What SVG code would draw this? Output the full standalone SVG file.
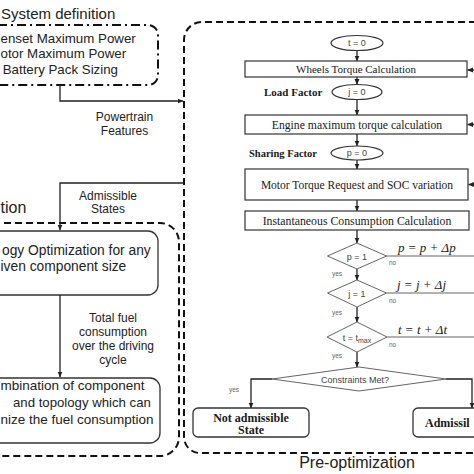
<svg xmlns="http://www.w3.org/2000/svg" width="474" height="474" viewBox="0 0 474 474">
<defs>
<marker id="ah" markerWidth="6" markerHeight="6" refX="5.5" refY="3" orient="auto" markerUnits="userSpaceOnUse"><path d="M0,0.5 L6,3 L0,5.5 z" fill="#222"/></marker>
<style>
.sans{font-family:"Liberation Sans",Arial,sans-serif;fill:#222}
.serif{font-family:"Liberation Serif","Times New Roman",serif;fill:#1a1a1a}
.bold{font-weight:bold}
.mid{text-anchor:middle}
.box{fill:#fff;stroke:#333;stroke-width:1.2}
.rbox{fill:#fff;stroke:#333;stroke-width:1.3}
.dia{fill:#fff;stroke:#666;stroke-width:1}
.ln{fill:none;stroke:#222;stroke-width:1.3}
.gl{fill:none;stroke:#666;stroke-width:1.2}
.dash{fill:none;stroke:#111;stroke-width:2;stroke-dasharray:7 4}
.dashdot{fill:none;stroke:#111;stroke-width:2;stroke-dasharray:9 4 2 4}
.small{font-family:"Liberation Sans",Arial,sans-serif;fill:#666;font-size:6.5px}
.dtxt{font-family:"Liberation Sans",Arial,sans-serif;fill:#444;font-size:9px;text-anchor:middle}
.formula{font-family:"Liberation Serif","Times New Roman",serif;font-style:italic;fill:#222;font-size:13px}
</style>
</defs>
<rect x="0" y="0" width="474" height="474" fill="#fff"/>

<!-- section outlines -->
<g id="system-definition">
<text class="sans" x="1" y="19" font-size="15">System definition</text>
<path class="dashdot" d="M-40,25 H148 A10,10 0 0 1 158,35 V75 A10,10 0 0 1 148,85 H-40"/>
<text class="sans" x="0.5" y="43" font-size="13.3">enset Maximum Power</text>
<text class="sans" x="0.5" y="58" font-size="13.3">otor Maximum Power</text>
<text class="sans" x="2.7" y="74" font-size="13.3">Battery Pack Sizing</text>
</g>

<g id="optimization">
<text class="sans" x="0.5" y="213" font-size="16">tion</text>
<path class="dash" d="M-40,223 H160 A19,19 0 0 1 179,242 V437 A19,19 0 0 1 160,456 H-40"/>
</g>

<g id="topology-box">
<rect class="rbox" x="-40" y="231" width="198" height="64" rx="10"/>
<text class="sans" x="2" y="255" font-size="13.8">ogy Optimization for any</text>
<text class="sans" x="0.5" y="271" font-size="13.8">iven component size</text>
</g>

<g id="combination-box">
<rect class="rbox" x="-40" y="378" width="200" height="65" rx="10"/>
<text class="sans" x="0.5" y="390" font-size="13.5">mbination of component</text>
<text class="sans" x="13" y="407" font-size="13.2">and topology which can</text>
<text class="sans" x="0.5" y="424" font-size="13.5">nize the fuel consumption</text>
</g>

<g id="pre-optimization">
<path class="dash" d="M520,22 H202 A18,18 0 0 0 184,40 V437 A16,16 0 0 0 200,453 H520"/>
<text class="sans mid" x="357" y="468" font-size="16">Pre-optimization</text>
</g>

<!-- connectors -->
<g id="connectors">
<path class="ln" d="M60,85 V101 H183" marker-end="url(#ah)"/>
<path class="ln" d="M184,183 H60 V230" marker-end="url(#ah)"/>
<path class="ln" d="M60,295 V377" marker-end="url(#ah)"/>
<text class="sans mid" x="124.5" y="121" font-size="12">Powertrain</text>
<text class="sans mid" x="124.5" y="135" font-size="12">Features</text>
<text class="sans mid" x="108" y="200" font-size="12">Admissible</text>
<text class="sans mid" x="108" y="213" font-size="12">States</text>
<text class="sans mid" x="113" y="322" font-size="12">Total fuel</text>
<text class="sans mid" x="113" y="336" font-size="12">consumption</text>
<text class="sans mid" x="113" y="350" font-size="12">over the driving</text>
<text class="sans mid" x="113" y="364" font-size="12">cycle</text>

<path class="ln" d="M357,50.5 V61" marker-end="url(#ah)"/>
<path class="ln" d="M357,77 V84.5" marker-end="url(#ah)"/>
<path class="ln" d="M357,99.5 V115" marker-end="url(#ah)"/>
<path class="ln" d="M357,134 V146" marker-end="url(#ah)"/>
<path class="ln" d="M357,160 V169" marker-end="url(#ah)"/>
<path class="ln" d="M357,200 V211" marker-end="url(#ah)"/>
<path class="ln" d="M357,230 V243" marker-end="url(#ah)"/>
<path class="ln" d="M357,269 V280" marker-end="url(#ah)"/>
<path class="ln" d="M357,307 V322" marker-end="url(#ah)"/>
<path class="ln" d="M357,352 V367" marker-end="url(#ah)"/>

<path class="gl" d="M386.5,256 H480"/>
<path class="gl" d="M386.5,293 H480"/>
<path class="gl" d="M387,337 H480"/>
<path class="ln" d="M480,70 H467.5" marker-end="url(#ah)"/>
<path class="ln" d="M480,124.5 H467.5" marker-end="url(#ah)"/>
<path class="ln" d="M480,184.5 H468.5" marker-end="url(#ah)"/>

<path class="ln" d="M272,379 H251 V408" marker-end="url(#ah)"/>
<path class="ln" d="M446,379 H472 V408" marker-end="url(#ah)"/>

<text class="formula" x="398" y="252">p = p + Δp</text>
<text class="formula" x="397" y="289">j = j + Δj</text>
<text class="formula" x="398" y="334">t = t + Δt</text>
<text class="small" x="389" y="265">no</text>
<text class="small" x="389" y="303">no</text>
<text class="small" x="389" y="347">no</text>
<text class="small" x="332" y="276">yes</text>
<text class="small" x="332" y="315">yes</text>
<text class="small" x="332" y="358">yes</text>
<text class="small" x="229" y="392">yes</text>
</g>

<!-- flowchart nodes -->
<g id="t0"><ellipse class="box" cx="357" cy="43" rx="26" ry="7.5"/><text class="dtxt" x="357" y="46">t = 0</text></g>
<g id="wheels"><rect class="box" x="245" y="61" width="222" height="16"/><text class="serif mid" x="356" y="73" font-size="11">Wheels Torque Calculation</text></g>
<g id="load-factor"><text class="serif bold" x="264" y="95.5" font-size="11">Load Factor</text></g>
<g id="j0"><ellipse class="box" cx="357" cy="92" rx="25" ry="7.5"/><text class="dtxt" x="357" y="95">j = 0</text></g>
<g id="engine"><rect class="box" x="245" y="115" width="222" height="19"/><text class="serif mid" x="357" y="128.5" font-size="11.7">Engine maximum torque calculation</text></g>
<g id="sharing-factor"><text class="serif bold" x="249" y="156.5" font-size="10.5">Sharing Factor</text></g>
<g id="p0"><ellipse class="box" cx="357" cy="153" rx="26" ry="7"/><text class="dtxt" x="357" y="156">p = 0</text></g>
<g id="motor"><rect class="box" x="245" y="169" width="223" height="31"/><text class="serif mid" x="357" y="188.5" font-size="11.5">Motor Torque Request and SOC variation</text></g>
<g id="instant"><rect class="box" x="245" y="211" width="224" height="19"/><text class="serif mid" x="357" y="224.5" font-size="11.8">Instantaneous Consumption Calculation</text></g>
<g id="p1"><path class="dia" d="M357,243 L386.5,256 L357,269 L327.5,256 Z"/><text class="dtxt" x="357" y="259.5">p = 1</text></g>
<g id="j1"><path class="dia" d="M357,280 L386.5,293 L357,307 L327.5,293 Z"/><text class="dtxt" x="357" y="296.5">j = 1</text></g>
<g id="tmax"><path class="dia" d="M357,322 L387,337 L357,352 L327,337 Z"/><text class="dtxt" x="357" y="340.5">t = t<tspan font-size="7" dy="2">max</tspan></text></g>
<g id="constraints"><path class="dia" d="M359,367 L446,379 L359,391 L272,379 Z"/><text class="dtxt" x="355" y="382.5" font-size="9.4">Constraints Met?</text></g>
<g id="not-admissible"><rect class="rbox" x="193" y="408" width="116" height="29" rx="5"/><text class="serif bold mid" x="251" y="421.5" font-size="12">Not admissible</text><text class="serif bold mid" x="251" y="434" font-size="12">State</text></g>
<g id="admissible"><rect class="rbox" x="413" y="408" width="116" height="29" rx="5"/><text class="serif bold" x="425" y="426.5" font-size="12">Admissil</text></g>
</svg>
